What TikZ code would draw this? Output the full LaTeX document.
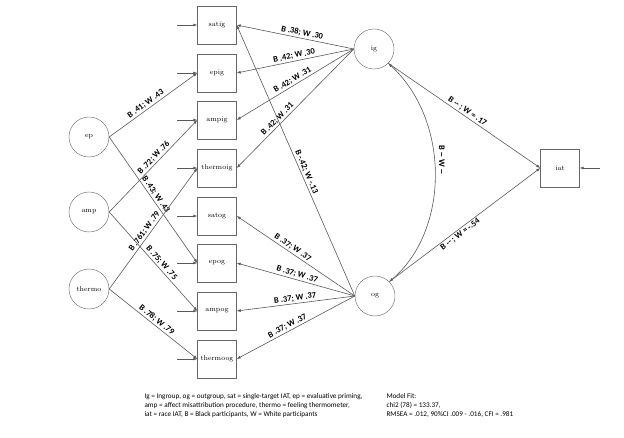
\documentclass[tikz,border=0pt]{standalone}
\usepackage{fontspec}
\newfontfamily\lab{Carlito}
\usetikzlibrary{arrows.meta}
\begin{document}
\begin{tikzpicture}[x=1pt,y=-1pt,
  box/.style={draw=gray!80!black,minimum width=39pt,minimum height=38pt,inner sep=0pt,font=\fontsize{7}{8}\selectfont},
  lat/.style={draw=gray!80!black,circle,minimum size=40pt,inner sep=0pt,font=\fontsize{7}{8}\selectfont},
  arr/.style={draw=gray!70!black,-{Latex[length=4pt,width=3pt]},line width=0.6pt},
  lb/.style={sloped,above,font=\lab\bfseries\fontsize{8.5}{9}\selectfont,inner sep=1.5pt}]
\useasboundingbox (0,0) rectangle (624,438);
\node[box] (satig) at (217,25) {satig};
\node[box] (epig) at (217,73) {epig};
\node[box] (ampig) at (217,120) {ampig};
\node[box] (thermoig) at (217,168) {thermoig};
\node[box] (satog) at (217,216) {satog};
\node[box] (epog) at (217,263) {epog};
\node[box] (ampog) at (217,311) {ampog};
\node[box] (thermoog) at (217,359) {thermoog};
\node[box] (iat) at (560,168) {iat};
\node[lat] (ep) at (89,137) {ep};
\node[lat] (amp) at (89,212) {amp};
\node[lat] (thermo) at (89,289) {thermo};
\node[lat] (ig) at (374,49) {ig};
\node[lat] (og) at (375,296) {og};
\foreach \n in {satig,epig,ampig,thermoig,satog,epog,ampog,thermoog}{
  \coordinate (s\n) at ([xshift=-20pt]\n.west);
  \draw[arr] (s\n) -- (\n.west);}
\coordinate (siat) at ([xshift=20pt]iat.east);
\draw[arr] (siat) -- (iat.east);
\draw[arr] (ep.east) -- node[lb,pos=0.45]{B .41; W .43} (epig.west);
\draw[arr] (ep.east) -- node[lb,pos=0.48]{B .43; W .43} (epog.west);
\draw[arr] (amp.east) -- node[lb,pos=0.55]{B .72; W .76} (ampig.west);
\draw[arr] (amp.east) -- node[lb,pos=0.55]{B .75; W .75} (ampog.west);
\draw[arr] (thermo.east) -- node[lb,pos=0.45]{B .761; W .79} (thermoig.west);
\draw[arr] (thermo.east) -- node[lb,pos=0.5]{B .78; W .79} (thermoog.west);
\draw[arr] (ig.west) -- node[lb,pos=0.45]{B .38; W .30} (satig.east);
\draw[arr] (ig.west) -- node[lb,pos=0.5]{B .42; W .30} (epig.east);
\draw[arr] (ig.west) -- node[lb,pos=0.5]{B .42; W .31} (ampig.east);
\draw[arr] (ig.west) -- node[lb,pos=0.62]{B .42; W .31} (thermoig.east);
\draw[arr] (og.west) -- node[lb,pos=0.45]{B -.42; W -.13} (satig.east);
\draw[arr] (og.west) -- node[lb,pos=0.55]{B .37; W .37} (satog.east);
\draw[arr] (og.west) -- node[lb,pos=0.5]{B .37; W .37} (epog.east);
\draw[arr] (og.west) -- node[lb,pos=0.5]{B .37; W .37} (ampog.east);
\draw[arr] (og.west) -- node[lb,pos=0.55]{B .37; W .37} (thermoog.east);
\draw[arr] (ig.south east) -- node[lb,pos=0.5]{B {-}{-} ; W = .17} (iat.west);
\draw[arr] (og.north east) -- node[lb,pos=0.45,below]{B {-}{-} ; W = -.54} (iat.west);
\draw[draw=gray!70!black,line width=0.6pt,{Latex[length=4pt,width=3pt]}-{Latex[length=4pt,width=3pt]}] (ig.south east) .. controls (450,120) and (450,230) .. (og.north east);
\node[rotate=-90,font=\lab\bfseries\fontsize{8.5}{9}\selectfont] (cl) at (442,160) {B {-}{-} W {-}{-}};
\node[anchor=north west,align=left,font=\lab\fontsize{7.2}{9}\selectfont] (leg) at (141,390) {Ig = Ingroup, og = outgroup, sat = single-target IAT, ep = evaluative priming,\\amp = affect misattribution procedure, thermo = feeling thermometer,\\iat = race IAT, B = Black participants, W = White participants};
\node[anchor=north west,align=left,font=\lab\fontsize{7.2}{9}\selectfont] (fit) at (383,390) {Model Fit:\\chi2 (78) = 133.37,\\RMSEA = .012, 90\%CI .009 - .016, CFI = .981};
\end{tikzpicture}
\end{document}
